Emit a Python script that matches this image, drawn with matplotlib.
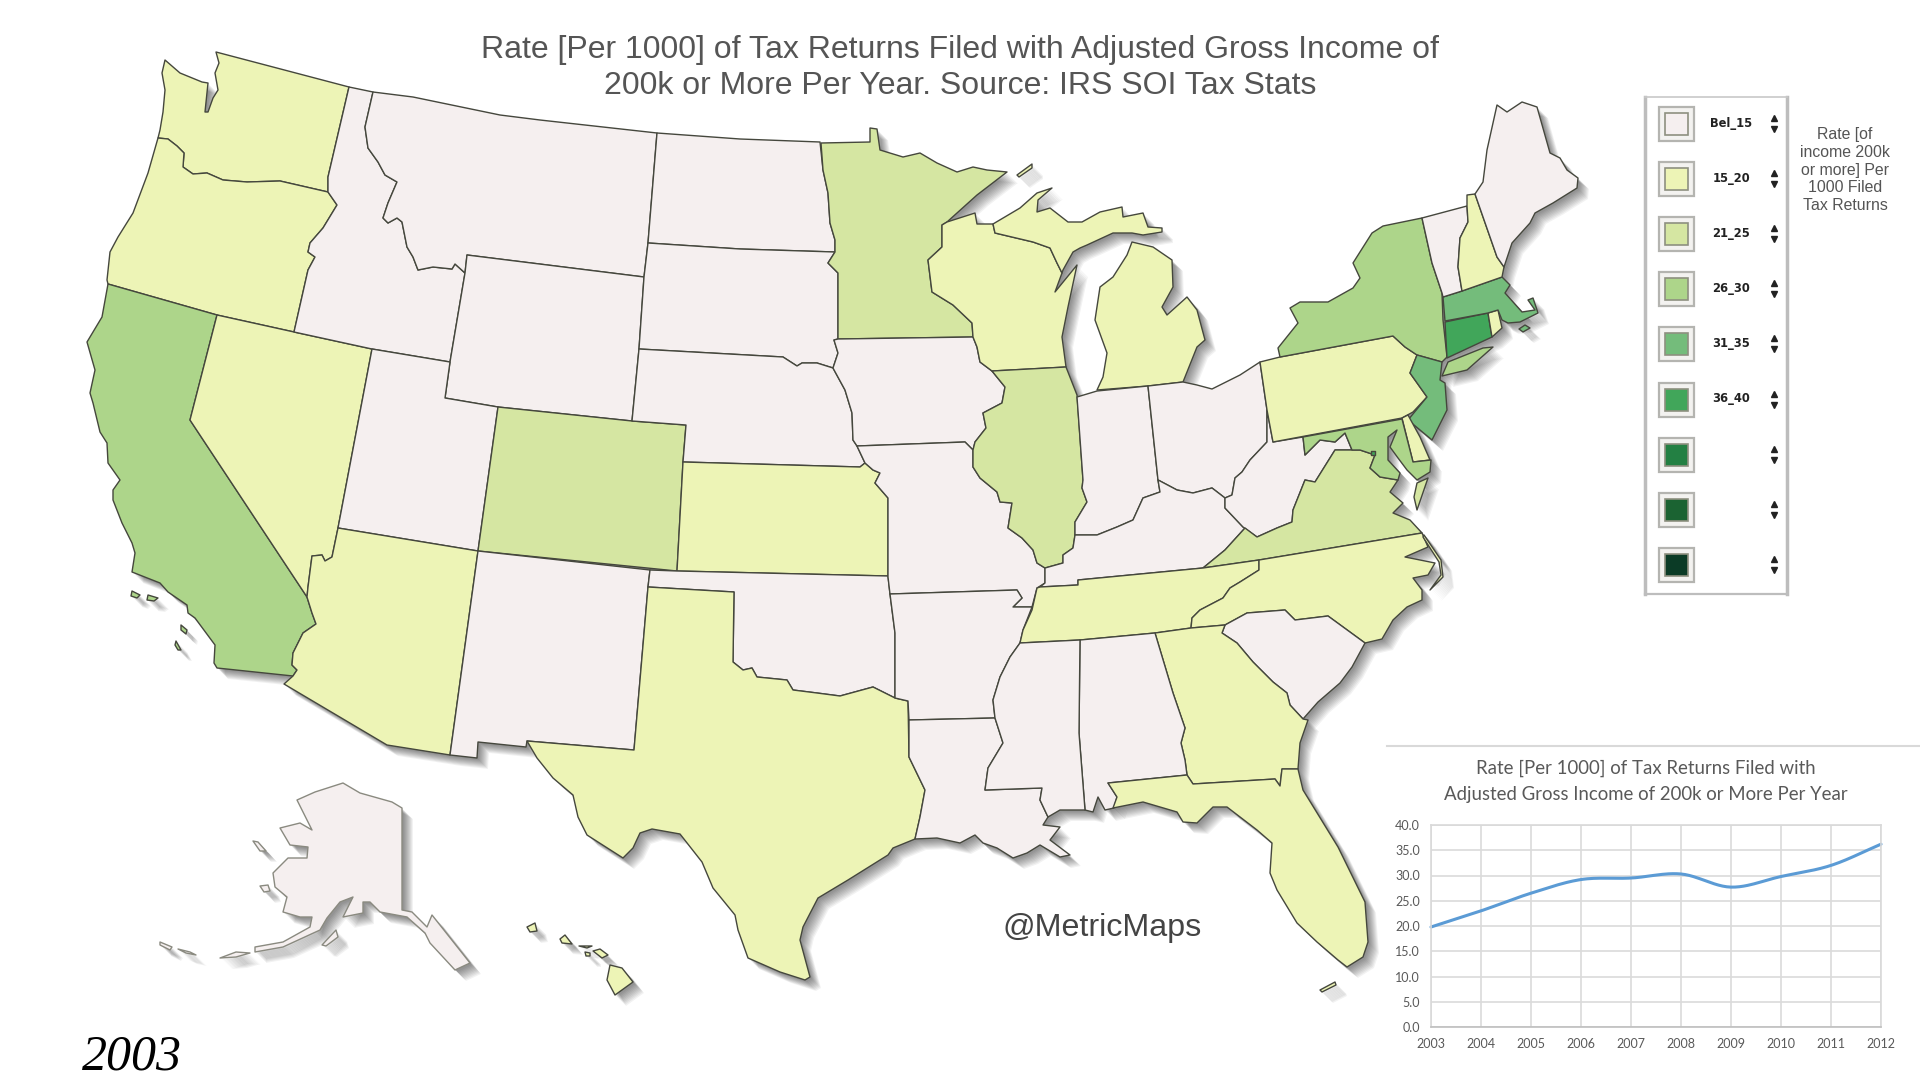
import numpy as np
import matplotlib
matplotlib.use("Agg")
import matplotlib.pyplot as plt
from matplotlib.patches import Polygon, Rectangle

# ---------- data ----------
TITLE = "Rate [Per 1000] of Tax Returns Filed with Adjusted Gross Income of\n200k or More Per Year. Source: IRS SOI Tax Stats"
LEGEND_TITLE = "Rate [of\nincome 200k\nor more] Per\n1000 Filed\nTax Returns"
CHART_TITLE = "Rate [Per 1000] of Tax Returns Filed with\nAdjusted Gross Income of 200k or More Per Year"
HANDLE = "@MetricMaps"
YEAR_LABEL = "2003"

legend_labels = ["Bel_15", "15_20", "21_25", "26_30", "31_35", "36_40", "", "", ""]
legend_colors = ["#F5EFEF", "#EDF4B6", "#D5E6A2", "#ADD58A", "#74BC7B", "#41A65A", "#238043", "#1B6332", "#0B3B26"]

years = [2003, 2004, 2005, 2006, 2007, 2008, 2009, 2010, 2011, 2012]
rates = [19.8, 23.0, 26.5, 29.2, 29.5, 30.3, 27.7, 29.8, 32.0, 36.2]
y_ticks = [0, 5, 10, 15, 20, 25, 30, 35, 40]

state_bin = {
    "Bel_15": ["ID", "MT", "ND", "SD", "WY", "UT", "NE", "IA", "MO", "AR", "OK", "NM", "LA", "MS", "AL", "SC",
               "KY", "WV", "OH", "IN", "VT", "ME", "AK"],
    "15_20": ["WA", "OR", "NV", "AZ", "TX", "KS", "WI", "MI", "PA", "NC", "TN", "GA", "FL", "NH", "DE", "RI", "HI"],
    "21_25": ["MN", "CO", "IL", "VA"],
    "26_30": ["CA", "NY", "MD"],
    "31_35": ["MA", "NJ"],
    "36_40": ["CT", "DC"],
}

# state outlines, in the picture's own map units, one list of rings per state
state_outlines = {
    "WA": [[(216,52),(349,87),(328,177),(328,192),(280,181),(247,182),(223,180),(207,173),(193,174),(183,167),(184,153),(177,146),(168,139),(158,138),(160,130),(163,112),(165,90),(162,73),(165,60),(180,73),(202,82),(208,83),(205,112),(208,112),(213,98),(218,90),(215,73),(219,63)]],
    "OR": [[(158,138),(168,139),(177,146),(184,153),(183,167),(193,174),(207,173),(223,180),(247,182),(280,181),(328,192),(337,205),(323,228),(310,243),(308,252),(315,257),(308,270),(294,332),(217,315),(108,284),(107,280),(110,252),(118,237),(133,213),(148,173)]],
    "CA": [[(108,284),(217,315),(190,420),(307,597),(312,613),(316,624),(303,633),(293,653),(292,665),(297,670),(293,676),(217,668),(214,663),(215,645),(195,618),(188,613),(187,605),(168,592),(160,583),(132,572),(135,553),(132,543),(122,523),(113,500),(113,490),(120,480),(108,463),(107,443),(100,432),(93,403),(90,393),(95,370),(87,342),(102,317)],
           [(132,591),(140,595),(137,598),(131,596)], [(148,595),(158,598),(154,601),(147,600)], [(181,625),(187,630),(186,634),(181,630)], [(176,641),(181,650),(178,650),(175,645)]],
    "NV": [[(217,315),(294,332),(372,349),(338,528),(332,557),(325,561),(322,555),(312,556),(308,587),(307,597),(190,420)]],
    "ID": [[(349,87),(373,92),(365,127),(368,148),(378,162),(385,175),(397,182),(388,203),(383,218),(388,223),(397,218),(402,222),(407,247),(413,257),(418,270),(433,267),(452,269),(455,264),(465,273),(450,362),(372,349),(294,332),(308,270),(315,257),(308,252),(310,243),(323,228),(337,205),(328,192),(328,177)]],
    "MT": [[(373,92),(413,97),(500,115),(540,120),(657,133),(648,243),(644,277),(467,255),(465,273),(455,264),(452,269),(433,267),(418,270),(413,257),(407,247),(402,222),(397,218),(388,223),(383,218),(388,203),(397,182),(385,175),(378,162),(368,148),(365,127)]],
    "WY": [[(467,255),(644,277),(639,349),(632,421),(498,407),(445,398),(450,362),(465,273)]],
    "UT": [[(372,349),(450,362),(445,398),(498,407),(478,551),(338,528)]],
    "CO": [[(498,407),(632,421),(686,425),(683,462),(677,571),(478,551)]],
    "AZ": [[(338,528),(478,551),(450,755),(387,745),(284,684),(293,676),(297,670),(292,665),(293,653),(303,633),(316,624),(312,613),(307,597),(308,587),(312,556),(322,555),(325,561),(332,557)]],
    "NM": [[(478,551),(650,570),(648,587),(634,750),(527,741),(526,747),(478,742),(477,758),(450,755)]],
    "ND": [[(657,133),(740,139),(820,142),(823,170),(828,193),(830,223),(835,240),(835,252),(740,249),(648,243)]],
    "SD": [[(648,243),(740,249),(835,252),(828,263),(838,273),(838,339),(834,340),(838,353),(833,368),(817,363),(802,363),(797,366),(783,357),(639,349),(644,277)]],
    "NE": [[(639,349),(783,357),(797,366),(802,363),(817,363),(833,368),(845,390),(852,413),(853,440),(857,446),(865,463),(860,467),(683,462),(686,425),(632,421)]],
    "KS": [[(683,462),(860,467),(865,463),(873,470),(880,473),(875,483),(888,498),(888,576),(677,571)]],
    "OK": [[(650,570),(677,571),(888,576),(890,594),(895,633),(895,698),(873,687),(840,696),(817,693),(793,690),(787,680),(757,677),(752,668),(743,670),(733,662),(734,592),(648,587)]],
    "TX": [[(648,587),(734,592),(733,662),(743,670),(752,668),(757,677),(787,680),(793,690),(817,693),(840,696),(873,687),(895,698),(908,701),(909,757),(925,790),(920,817),(915,839),(893,848),(888,855),(848,880),(818,898),(803,927),(800,940),(810,977),(805,980),(780,972),(748,958),(738,930),(735,915),(713,888),(702,862),(680,834),(652,829),(640,833),(633,848),(623,858),(587,835),(578,817),(573,795),(553,778),(537,758),(527,741),(634,750)]],
    "MN": [[(821,143),(870,142),(870,128),(877,129),(880,150),(903,157),(920,153),(937,163),(957,172),(973,167),(987,170),(1007,172),(977,195),(947,222),(942,225),(942,247),(928,260),(932,292),(953,305),(972,323),(973,337),(838,339),(838,273),(828,263),(835,252),(835,240),(830,223),(828,193),(823,170)]],
    "IA": [[(838,339),(973,337),(977,347),(980,362),(992,371),(1005,387),(1002,403),(983,413),(986,428),(975,442),(973,450),(965,442),(857,446),(853,440),(852,413),(845,390),(833,368),(838,353),(834,340)]],
    "MO": [[(857,446),(965,442),(973,450),(973,467),(980,478),(997,492),(1000,502),(1012,503),(1008,528),(1022,538),(1033,550),(1037,563),(1045,568),(1045,583),(1037,588),(1032,607),(1013,607),(1022,598),(1017,590),(890,594),(888,577),(888,498),(875,483),(880,473),(873,470),(865,463)]],
    "AR": [[(890,594),(1017,590),(1022,598),(1013,607),(1032,607),(1023,630),(1020,643),(1010,657),(1000,677),(993,700),(995,718),(909,720),(908,701),(895,698),(895,633)]],
    "LA": [[(909,720),(995,718),(1003,743),(988,768),(985,790),(1042,788),(1040,800),(1048,817),(1043,825),(1060,827),(1050,840),(1070,855),(1060,857),(1040,845),(1027,853),(1013,858),(997,848),(983,843),(975,835),(960,843),(937,838),(915,839),(920,817),(925,790),(909,757)]],
    "WI": [[(947,222),(975,213),(977,224),(993,224),(995,233),(1033,242),(1050,248),(1057,263),(1062,273),(1055,292),(1077,265),(1068,307),(1062,337),(1066,367),(992,371),(980,362),(977,347),(973,337),(972,323),(953,305),(932,292),(928,260),(942,247),(942,225)]],
    "MI": [[(993,224),(1020,208),(1037,193),(1052,188),(1038,200),(1037,212),(1050,208),(1068,222),(1082,222),(1100,212),(1122,207),(1123,217),(1143,213),(1148,227),(1162,228),(1162,232),(1143,235),(1132,233),(1113,233),(1087,245),(1080,248),(1073,252),(1063,270),(1062,273),(1057,263),(1050,248),(1033,242),(995,233)],
           [(1097,390),(1103,377),(1107,353),(1095,320),(1100,287),(1113,277),(1127,255),(1132,242),(1153,247),(1172,260),(1173,287),(1162,307),(1167,315),(1187,297),(1197,310),(1205,340),(1197,347),(1183,382),(1148,386)],
           [(1017,175),(1032,164),(1032,168),(1019,177)]],
    "IL": [[(992,371),(1066,367),(1077,395),(1083,480),(1082,488),(1087,502),(1075,522),(1075,535),(1073,548),(1063,555),(1063,563),(1045,568),(1037,563),(1033,550),(1022,538),(1008,528),(1012,503),(1000,502),(997,492),(980,478),(973,467),(973,450),(975,442),(986,428),(983,413),(1002,403),(1005,387)]],
    "IN": [[(1077,397),(1097,391),(1148,386),(1158,480),(1160,492),(1143,498),(1133,520),(1117,527),(1097,535),(1075,535),(1075,522),(1087,502),(1082,488),(1083,480)]],
    "OH": [[(1148,386),(1183,382),(1197,385),(1212,389),(1240,375),(1260,362),(1267,410),(1267,442),(1250,460),(1242,472),(1235,478),(1232,495),(1225,498),(1212,488),(1193,493),(1177,490),(1160,481),(1158,480)]],
    "KY": [[(1045,568),(1063,563),(1063,555),(1073,548),(1075,535),(1097,535),(1117,527),(1133,520),(1143,498),(1160,492),(1158,480),(1160,481),(1177,490),(1193,493),(1212,488),(1225,498),(1225,508),(1243,527),(1245,528),(1225,550),(1203,568),(1078,580),(1078,585),(1040,587),(1045,583)]],
    "WV": [[(1225,498),(1232,495),(1235,478),(1242,472),(1250,460),(1267,442),(1267,410),(1273,442),(1303,437),(1305,455),(1320,440),(1335,442),(1345,433),(1352,450),(1335,450),(1315,482),(1305,480),(1293,510),(1292,522),(1277,528),(1257,537),(1243,527),(1225,508)]],
    "VA": [[(1245,528),(1257,537),(1277,528),(1292,522),(1293,510),(1305,480),(1315,482),(1335,450),(1352,450),(1360,450),(1375,455),(1370,468),(1380,477),(1398,480),(1390,492),(1403,503),(1393,513),(1410,520),(1422,533),(1259,560),(1203,568),(1225,550)],
           [(1428,478),(1417,510),(1414,497),(1417,483)]],
    "TN": [[(1040,587),(1078,585),(1078,580),(1203,568),(1259,560),(1259,570),(1240,582),(1230,588),(1223,598),(1200,610),(1192,618),(1191,628),(1155,633),(1080,640),(1020,643),(1023,630),(1032,610),(1037,588)]],
    "NC": [[(1259,560),(1422,533),(1428,547),(1405,557),(1435,563),(1428,575),(1413,578),(1422,590),(1422,600),(1407,607),(1393,620),(1382,639),(1365,643),(1328,616),(1295,620),(1285,610),(1247,613),(1225,625),(1191,628),(1192,618),(1200,610),(1223,598),(1230,588),(1240,582),(1259,570)],
           [(1424,535),(1441,560),(1443,577),(1430,590),(1441,575),(1439,562),(1423,537)]],
    "SC": [[(1225,625),(1247,613),(1285,610),(1295,620),(1328,616),(1365,643),(1352,667),(1340,683),(1318,702),(1303,719),(1290,705),(1287,693),(1273,682),(1253,662),(1237,643),(1222,633)]],
    "GA": [[(1155,633),(1191,628),(1225,625),(1222,633),(1237,643),(1253,662),(1273,682),(1287,693),(1290,705),(1303,719),(1308,720),(1300,743),(1298,769),(1282,769),(1280,786),(1275,779),(1193,784),(1187,775),(1185,760),(1181,743),(1185,728),(1173,693)]],
    "AL": [[(1080,640),(1155,633),(1173,693),(1185,728),(1181,743),(1185,760),(1187,775),(1108,783),(1117,797),(1114,808),(1105,810),(1098,797),(1093,812),(1085,810),(1079,733)]],
    "MS": [[(1020,643),(1080,640),(1079,733),(1085,810),(1060,810),(1048,817),(1040,800),(1042,788),(985,790),(988,768),(1003,743),(995,718),(993,700),(1000,677),(1010,657)]],
    "FL": [[(1108,783),(1187,775),(1193,784),(1275,779),(1280,786),(1282,769),(1298,769),(1303,790),(1338,847),(1365,902),(1368,942),(1363,957),(1347,967),(1338,960),(1317,942),(1297,923),(1277,890),(1270,873),(1272,843),(1257,830),(1227,807),(1213,807),(1197,823),(1183,822),(1177,812),(1143,802),(1113,808),(1117,797)],
           [(1320,990),(1335,982),(1336,985),(1322,992)]],
    "PA": [[(1260,362),(1280,357),(1393,336),(1405,347),(1417,355),(1410,373),(1427,397),(1413,412),(1402,418),(1273,442),(1267,410)]],
    "NY": [[(1278,348),(1298,323),(1290,308),(1300,302),(1328,302),(1353,288),(1360,278),(1353,263),(1372,233),(1383,226),(1422,218),(1432,263),(1442,293),(1443,320),(1447,357),(1442,362),(1417,355),(1405,347),(1393,336),(1280,357)],
           [(1442,376),(1448,362),(1483,348),(1493,347),(1467,370)]],
    "NJ": [[(1417,355),(1442,362),(1440,380),(1445,383),(1447,410),(1432,440),(1408,420),(1427,397),(1410,373)]],
    "DE": [[(1402,418),(1408,415),(1420,437),(1430,460),(1413,462)]],
    "MD": [[(1303,437),(1402,419),(1413,462),(1431,460),(1430,472),(1417,480),(1407,470),(1398,458),(1390,447),(1397,430),(1388,437),(1388,460),(1400,473),(1398,480),(1380,477),(1370,468),(1375,455),(1360,450),(1352,450),(1345,433),(1335,442),(1320,440),(1305,455)]],
    "DC": [[(1371,451),(1375,451),(1375,455),(1371,455)]],
    "CT": [[(1445,322),(1488,313),(1492,337),(1447,358)]],
    "RI": [[(1488,313),(1498,310),(1502,328),(1492,337)]],
    "MA": [[(1443,297),(1462,291),(1502,277),(1510,285),(1505,293),(1522,312),(1535,310),(1528,300),(1533,298),(1538,313),(1520,322),(1508,323),(1502,320),(1498,310),(1488,313),(1445,321)],
           [(1519,329),(1525,325),(1530,328),(1523,332)]],
    "VT": [[(1422,218),(1467,206),(1468,222),(1460,238),(1458,267),(1462,291),(1443,297),(1442,293),(1432,263)]],
    "NH": [[(1467,195),(1475,194),(1497,257),(1504,267),(1502,277),(1462,291),(1458,267),(1460,238),(1468,222),(1467,206)]],
    "ME": [[(1475,194),(1483,182),(1487,150),(1497,105),(1507,112),(1522,102),(1537,107),(1550,153),(1560,158),(1567,170),(1578,178),(1577,188),(1553,203),(1535,213),(1530,223),(1512,243),(1504,267),(1497,257)]],
    "AK": [[(297,800),(315,792),(343,783),(360,793),(392,802),(402,808),(402,910),(412,912),(427,927),(432,915),(470,963),(455,970),(430,943),(425,933),(407,917),(380,912),(370,902),(363,902),(363,913),(343,917),(353,897),(340,902),(327,918),(320,930),(283,947),(255,952),(255,947),(283,942),(310,927),(312,917),(300,917),(283,912),(287,897),(275,887),(273,873),(288,858),(307,858),(308,847),(290,845),(280,828),(300,823),(312,830),(308,822)],
           [(220,958),(236,952),(250,953),(236,957)], [(160,942),(172,947),(170,950),(160,945)], [(178,949),(190,952),(196,955),(186,953)],
           [(253,841),(258,842),(266,851),(260,851)], [(260,886),(268,885),(270,891),(264,892)], [(322,945),(336,930),(338,937),(326,946)]],
    "HI": [[(527,927),(535,923),(537,931),(530,932)], [(560,939),(565,935),(572,944),(562,943)], [(593,951),(600,949),(608,955),(602,958)],
           [(579,946),(592,946),(587,948)], [(585,952),(590,953),(590,956),(586,956)], [(610,965),(622,968),(633,982),(615,995),(607,980)]],
}

# ---------- figure ----------
fig = plt.figure(figsize=(19.2, 10.8), dpi=100, facecolor="white")
ax = fig.add_axes([0, 0, 1, 1])
ax.set_xlim(0, 1920)
ax.set_ylim(1080, 0)
ax.axis("off")

bin_color = dict(zip(legend_labels, legend_colors))
state_color = {s: bin_color[b] for b, members in state_bin.items() for s in members}

# soft drop shadow behind the map
for off in range(2, 12):
    for rings in state_outlines.values():
        for ring in rings:
            pts = np.asarray(ring, float) + off
            ax.add_patch(Polygon(pts, closed=True, fc="black", ec="none", alpha=0.05, zorder=1))

for st, rings in state_outlines.items():
    edge = "#8a8a80" if st == "AK" else "#45473d"
    for ring in rings:
        ax.add_patch(Polygon(ring, closed=True, fc=state_color[st], ec=edge, lw=1.0, joinstyle="round", zorder=2))

# titles and notes
ax.text(960, 68, TITLE, ha="center", va="center", fontsize=23.0, color="#555555", family="Liberation Sans", linespacing=1.22)
ax.text(1102, 928, HANDLE, ha="center", va="center", fontsize=23.2, color="#444444", family="Liberation Sans")
ax.text(132, 1057, YEAR_LABEL, ha="center", va="center", fontsize=36, color="black", family="Liberation Serif", style="italic")

# legend panel
panel_l, panel_r, panel_t, panel_b = 1645, 1787, 97, 594
ax.plot([panel_l, panel_l], [panel_t, panel_b], color="#BDBDBD", lw=2.5, zorder=3)
ax.plot([panel_r, panel_r], [panel_t, panel_b], color="#BDBDBD", lw=2.5, zorder=3)
ax.plot([panel_l, panel_r], [panel_t, panel_t], color="#C8C8C8", lw=1.2, zorder=3)
ax.plot([panel_l, panel_r], [panel_b, panel_b], color="#BDBDBD", lw=1.6, zorder=3)
row_h = 55.1
for i, (lab, col) in enumerate(zip(legend_labels, legend_colors)):
    cy = 124 + i * row_h
    ax.add_patch(Rectangle((1659, cy - 17), 35, 34, fc="#F3F2F0", ec="#B4B4B0", lw=1.6, zorder=3))
    ax.add_patch(Rectangle((1665, cy - 11), 23, 22, fc=col, ec="#8E9080", lw=1.2, zorder=4))
    if lab:
        ax.text(1731, cy - 1, lab, ha="center", va="center", fontsize=8.3, weight="bold", color="#222222", family="DejaVu Sans", zorder=4)
    ax.plot([1773.5], [cy - 6], marker="^", ms=4.5, color="#222222", ls="none", zorder=4)
    ax.plot([1773.5], [cy + 5], marker="v", ms=4.5, color="#222222", ls="none", zorder=4)
ax.text(1845, 170, LEGEND_TITLE, ha="center", va="center", fontsize=11.4, color="#555555", family="Liberation Sans", linespacing=1.24)

# rule above the small chart
ax.plot([1387, 1920], [746, 746], color="#D9D9D9", lw=1.5, zorder=3)
ax.text(1646, 781, CHART_TITLE, ha="center", va="center", fontsize=13.4, color="#595959", family="Lato", linespacing=1.62)

# small line chart
W, H = 1920, 1080
L, R, T, B = 1431, 1881, 825, 1027
cax = fig.add_axes([L / W, 1 - B / H, (R - L) / W, (B - T) / H])
cax.set_xlim(years[0], years[-1])
cax.set_ylim(0, 40)
cax.set_xticks(years)
cax.set_yticks(y_ticks)
cax.set_yticklabels([f"{v:.1f}" for v in y_ticks])
cax.grid(True, color="#DADADA", lw=1.2)
cax.set_axisbelow(True)
for s in cax.spines.values():
    s.set_color("#D9D9D9")
    s.set_linewidth(1.2)
cax.spines["bottom"].set_color("#BFBFBF")
cax.tick_params(length=0, labelsize=9.0, labelcolor="#595959", pad=8)
for t in cax.get_xticklabels() + cax.get_yticklabels():
    t.set_family("Lato")

def smooth(xs, ys, n=24):
    xs, ys = np.asarray(xs, float), np.asarray(ys, float)
    p = np.r_[2 * ys[0] - ys[1], ys, 2 * ys[-1] - ys[-2]]
    out_x, out_y = [], []
    for i in range(len(xs) - 1):
        t = np.linspace(0, 1, n, endpoint=False)
        a, b, c, d = p[i], p[i + 1], p[i + 2], p[i + 3]
        out_y.append(0.5 * (2 * b + (c - a) * t + (2 * a - 5 * b + 4 * c - d) * t ** 2 + (3 * b - a - 3 * c + d) * t ** 3))
        out_x.append(xs[i] + t)
    return np.r_[np.concatenate(out_x), xs[-1]], np.r_[np.concatenate(out_y), ys[-1]]

sx, sy = smooth(years, rates)
cax.plot(sx, sy, color="#5B9BD5", lw=2.2, solid_capstyle="round", clip_on=False)

fig.savefig("out.png", dpi=100, facecolor="white")
